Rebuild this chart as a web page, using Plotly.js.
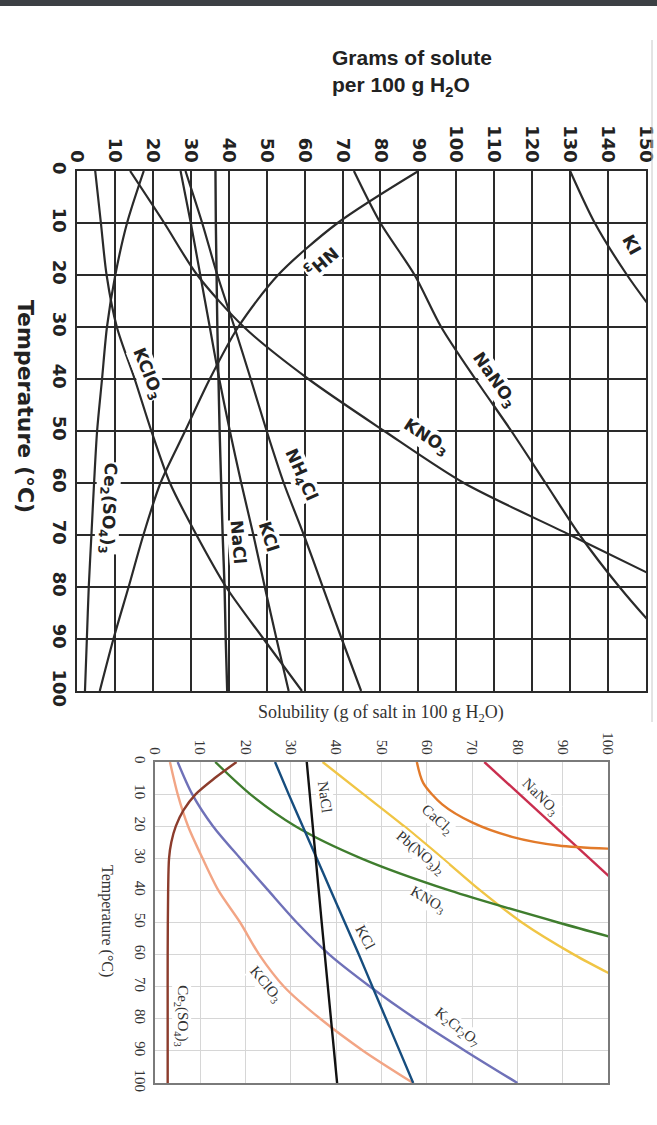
<!DOCTYPE html>
<html><head><meta charset="utf-8">
<script src="https://cdn.plot.ly/plotly-3.0.1.min.js"></script>
<style>html,body{margin:0;padding:0;background:#fff;} #chart{width:657px;height:1125px;}</style>
</head><body><div id="chart"></div>
<script>
// ---------- Chart 1: Grams of solute per 100 g H2O ----------
const temps1 = [0,10,20,30,40,50,60,70,80,90,100];
const kiTemps = [0,10,20,30];
const kiVals = [130,136.5,145,155];
const nano3Vals1 = [73,80,89,96,105,114.5,123.5,132.5,143,155,168];
const kno3Temps1 = [0,10,20,30,40,50,60,70,80];
const kno3Vals1 = [14,23,31.7,44,61,81,102,130,158];
const nh3Vals = [90,68.7,53,42.5,35,28.5,22,17.5,13.6,9.6,6];
const nh4clVals = [28.6,33,37,41.5,45.8,50,54.5,59.8,64.8,69.8,74.9];
const kclVals1 = [27.3,30,32.5,35,37.5,40.3,43.3,46.5,49.5,52.6,55.8];
const naclVals1 = [36.5,36.6,36.8,37,37.3,37.6,38,38.4,38.9,39.2,39.6];
const kclo3Vals1 = [4.8,6.3,7.8,10.5,15.2,19.6,24.5,31.5,39.3,49.2,59.3];
const ce2Vals1 = [17.6,13.2,10.1,7.9,6.6,5.3,4.5,3.8,3.1,2.6,2.1];
const names1 = ['KI','NaNO<sub>3</sub>','KNO<sub>3</sub>','NH<sub>3</sub>','NH<sub>4</sub>Cl','KCl','NaCl','KClO<sub>3</sub>','Ce<sub>2</sub>(SO<sub>4</sub>)<sub>3</sub>'];
const ticks1x = [0,10,20,30,40,50,60,70,80,90,100,110,120,130,140,150];
const ticks1y = [0,10,20,30,40,50,60,70,80,90,100];

// ---------- Chart 2: Solubility (g of salt in 100 g H2O) ----------
const temps2 = [0,10,20,30,40,50,60,70,80,90,100];
const nano3Temps2 = [0,10,20,30,40];
const nano3Vals2 = [72.7,80.4,88.2,95.9,103.6];
const cacl2Temps = [0,6.5,13.2,18.9,23.3,26,27,27.3];
const cacl2Vals = [57.8,59.2,63.4,70.1,78.8,89,100,110];
const pbTemps = [0,10,20,30,40,50,60,70];
const pbVals = [37,46,55,63.5,71.8,81,92.5,106];
const kno3Temps2 = [0,10,20,30,40,50,60];
const kno3Vals2 = [13.3,21,31,45.5,65,89,115];
const naclTemps2 = [0,50,100];
const naclVals2 = [33.5,36.8,40.2];
const kclVals2 = [26.5,29.5,32.6,35.7,38.8,41.9,45,48,51,54,57];
const k2cr2o7Vals = [5,8.2,12.8,18.8,25,31.3,38.5,47.5,57.5,68.5,80];
const kclo3Vals2 = [3.3,5,7.3,10.5,14,18.8,23,28.5,36.5,46,57];
const ce2Temps2 = [0,5,10,15,20,25,30,40,60,80,100];
const ce2Vals2 = [18,13.2,9,6.3,4.6,3.6,3.1,2.9,2.8,2.8,2.8];
const names2 = ['NaNO<sub>3</sub>','CaCl<sub>2</sub>','Pb(NO<sub>3</sub>)<sub>2</sub>','KNO<sub>3</sub>','NaCl','KCl','KClO<sub>3</sub>','K<sub>2</sub>Cr<sub>2</sub>O<sub>7</sub>','Ce<sub>2</sub>(SO<sub>4</sub>)<sub>3</sub>'];
const ticks2 = [0,10,20,30,40,50,60,70,80,90,100];

const W = 657, H = 1125;
const px = v => v / W;
const py = v => 1 - v / H;

function curve(xs, ys, xa, ya, color, width, spline) {
  return {type:'scatter', mode:'lines', x:xs, y:ys, xaxis:xa, yaxis:ya,
    line:{color:color, width:width, shape: spline ? 'spline' : 'linear', smoothing:0.8},
    hoverinfo:'skip', showlegend:false, cliponaxis:true};
}
const dark = '#2a2a2a';
const traces = [
  curve(kiVals, kiTemps, 'x', 'y', dark, 2.2, true),
  curve(nano3Vals1, temps1, 'x', 'y', dark, 2.2, true),
  curve(kno3Vals1, kno3Temps1, 'x', 'y', dark, 2.2, true),
  curve(nh3Vals, temps1, 'x', 'y', dark, 2.2, true),
  curve(nh4clVals, temps1, 'x', 'y', dark, 2.2, true),
  curve(kclVals1, temps1, 'x', 'y', dark, 2.2, true),
  curve(naclVals1, temps1, 'x', 'y', dark, 2.4, true),
  curve(kclo3Vals1, temps1, 'x', 'y', dark, 2.2, true),
  curve(ce2Vals1, temps1, 'x', 'y', dark, 2.2, true),

  curve(nano3Vals2, nano3Temps2, 'x2', 'y2', '#c92e4e', 2.4, false),
  curve(cacl2Vals, cacl2Temps, 'x2', 'y2', '#e27a2a', 2.4, true),
  curve(pbVals, pbTemps, 'x2', 'y2', '#f0c545', 2.4, true),
  curve(kno3Vals2, kno3Temps2, 'x2', 'y2', '#3f7d2e', 2.4, true),
  curve(kclo3Vals2, temps2, 'x2', 'y2', '#f2a585', 2.4, true),
  curve(k2cr2o7Vals, temps2, 'x2', 'y2', '#6f71b8', 2.4, true),
  curve(kclVals2, temps2, 'x2', 'y2', '#164d7e', 2.4, true),
  curve(naclVals2, naclTemps2, 'x2', 'y2', '#111111', 2.4, true),
  curve(ce2Vals2, ce2Temps2, 'x2', 'y2', '#8c3c2c', 2.4, true)
];

const boldSans = {family:'DejaVu Sans, Liberation Sans, sans-serif', size:18, color:'#222', weight:'bold'};
const serif = {family:'Liberation Serif, DejaVu Serif, serif', size:15, color:'#333'};

// label placements: [x value, temperature, angle]
const labelPos1 = [[146.3,14.2,61],[110,40.2,55],[92,51.2,33],[64.3,17.5,140],[59,58.5,66],[50.6,70.4,72],[42.6,71.3,85],[18.5,38.9,68],[8,64.8,92]];
const labelPos2 = [[85,10.9,45],[62.3,18,42],[58.5,28.4,40],[60.2,43,30],[37.5,10.9,82],[46.4,54.5,62],[24.3,69.2,50],[66.6,82.6,38],[5.9,79.1,90]];

const annotations = [];
names1.forEach((n,i)=>{
  const p = labelPos1[i];
  annotations.push({xref:'x', yref:'y', x:p[0], y:p[1], xanchor:'center', yanchor:'middle', text:n, textangle:p[2], showarrow:false,
    font:Object.assign({}, boldSans, {size:17}), bgcolor:'#ffffff', borderpad:0});
});
names2.forEach((n,i)=>{
  const p = labelPos2[i];
  annotations.push({xref:'x2', yref:'y2', x:p[0], y:p[1], xanchor:'center', yanchor:'middle', text:n, textangle:p[2], showarrow:false,
    font:Object.assign({}, serif, {size:15}), bgcolor:'#ffffff', borderpad:0});
});
annotations.push(
  {xref:'paper', yref:'paper', x:px(330), y:py(44), xanchor:'left', yanchor:'top', align:'left', showarrow:false,
   text:'Grams of solute<br>per 100 g H<sub>2</sub>O',
   font:{family:'Liberation Sans Narrow, Arial Narrow, Liberation Sans, sans-serif', size:21, color:'#222', weight:'bold'}},
  {xref:'paper', yref:'paper', x:px(25), y:py(406), xanchor:'center', yanchor:'middle', showarrow:false, textangle:90,
   text:'Temperature (°C)', font:{family:'DejaVu Sans, sans-serif', size:22, color:'#222', weight:'bold'}},
  {xref:'paper', yref:'paper', x:px(381), y:py(713), xanchor:'center', yanchor:'middle', showarrow:false,
   text:'Solubility (g of salt in 100 g H<sub>2</sub>O)', font:{family:'Liberation Serif, serif', size:18, color:'#333'}},
  {xref:'paper', yref:'paper', x:px(107), y:py(921), xanchor:'center', yanchor:'middle', showarrow:false, textangle:90,
   text:'Temperature (°C)', font:{family:'Liberation Serif, serif', size:16, color:'#333'}}
);

const layout = {
  width:W, height:H, margin:{l:0,r:0,t:0,b:0}, paper_bgcolor:'#fff', plot_bgcolor:'#fff', showlegend:false,
  xaxis:{domain:[px(77),px(646)], range:[0,150], side:'top', anchor:'y', tickmode:'array', tickvals:ticks1x, tickangle:90,
    tickfont:boldSans, ticks:'', showgrid:true, gridcolor:dark, gridwidth:2, zeroline:false,
    showline:true, linecolor:dark, linewidth:2, mirror:true, fixedrange:true, ticklabeloverflow:'allow'},
  yaxis:{domain:[py(691),py(171)], range:[100,0], anchor:'x', tickmode:'array', tickvals:ticks1y, tickangle:90,
    tickfont:boldSans, ticks:'', showgrid:true, gridcolor:dark, gridwidth:2, zeroline:false,
    showline:true, linecolor:dark, linewidth:2, mirror:true, fixedrange:true, ticklabeloverflow:'allow'},
  xaxis2:{domain:[px(155),px(608)], range:[0,100], side:'top', anchor:'y2', tickmode:'array', tickvals:ticks2, tickangle:90,
    tickfont:serif, ticks:'', showgrid:true, gridcolor:'#d6d6d6', gridwidth:1, zeroline:false,
    showline:true, linecolor:'#7a7a7a', linewidth:2, mirror:true, fixedrange:true, ticklabeloverflow:'allow'},
  yaxis2:{domain:[py(1083),py(762)], range:[100,0], anchor:'x2', tickmode:'array', tickvals:ticks2, tickangle:90,
    tickfont:serif, ticks:'', showgrid:true, gridcolor:'#d6d6d6', gridwidth:1, zeroline:false,
    showline:true, linecolor:'#7a7a7a', linewidth:2, mirror:true, fixedrange:true, ticklabeloverflow:'allow'},
  annotations:annotations,
  shapes:[
    {type:'rect', xref:'paper', yref:'paper', x0:0, x1:1, y0:py(6), y1:1, fillcolor:'#3c4044', line:{width:0}},
    {type:'line', xref:'paper', yref:'paper', x0:px(652), x1:px(652), y0:py(40), y1:py(722), line:{color:'#c8c8c8', width:1}}
  ]
};
Plotly.newPlot('chart', traces, layout, {staticPlot:true, displayModeBar:false});
</script></body></html>
